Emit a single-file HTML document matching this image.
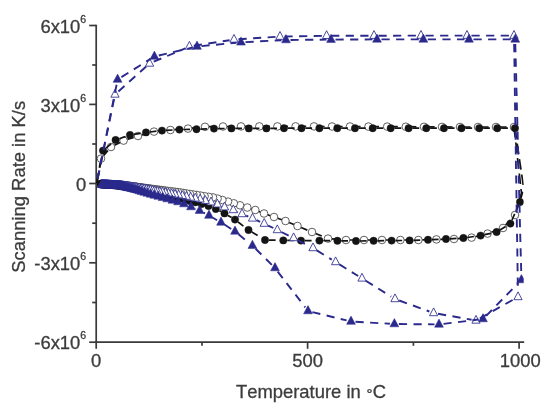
<!DOCTYPE html>
<html><head><meta charset="utf-8"><title>Scanning Rate vs Temperature</title>
<style>html,body{margin:0;padding:0;background:#fff}body{width:550px;height:415px;overflow:hidden}</style></head>
<body>
<svg width="550" height="415" viewBox="0 0 550 415" style="display:block;filter:blur(0.45px)">
<rect width="550" height="415" fill="#fff"/>
<g stroke="#3a3a3a" stroke-width="1.7" fill="none" stroke-linecap="butt">
<path d="M96.2 24.7 V343.05"/>
<path d="M95.35 342.2 H524.2"/>
<path d="M89.2 25.5 H96.2"/>
<path d="M89.2 104.4 H96.2"/>
<path d="M89.2 183.5 H96.2"/>
<path d="M89.2 262.8 H96.2"/>
<path d="M89.2 342.2 H96.2"/>
<path d="M92.2 65.0 H96.2"/>
<path d="M92.2 144.0 H96.2"/>
<path d="M92.2 223.2 H96.2"/>
<path d="M92.2 302.5 H96.2"/>
<path d="M96.2 342.2 V348.8"/>
<path d="M307.6 342.2 V348.8"/>
<path d="M519.1 342.2 V348.8"/>
<path d="M202.0 342.2 V345.8"/>
<path d="M413.4 342.2 V345.8"/>
</g>
<clipPath id="pa"><rect x="95.4" y="10" width="428.3" height="340"/></clipPath>
<g clip-path="url(#pa)">
<path d="M96.8 183.0L98.6 172.6M99.4 167.6L100.3 162.4M103.5 155.6L107.9 150.6M114.5 145.2L120.1 142.4M127.3 139.4L133.7 137.4M141.8 135.0L148.2 133.2M157.9 131.2L164.5 130.6M174.3 129.7L181.0 129.2M191.9 128.2L198.5 127.5M208.9 126.7L215.6 126.6M226.9 126.5L233.6 126.4M244.9 126.4L251.6 126.4M263.2 126.4L269.9 126.4M281.3 126.4L288.0 126.4M299.5 126.4L306.2 126.4M317.9 126.4L324.6 126.5M335.9 126.5L342.6 126.5M353.9 126.5L360.6 126.6M372.4 126.6L379.1 126.6M391.1 126.6L397.8 126.7M409.7 126.7L416.4 126.8M427.9 126.8L434.6 126.9M445.9 126.9L452.6 127.0M463.9 127.0L470.6 127.0M481.9 127.0L488.6 127.0M499.9 127.0L506.6 127.0M514.4 130.9L515.2 137.5M515.8 142.5L517.0 153.0M517.5 158.0L518.7 168.5M519.3 173.5L520.5 184.0M521.0 189.0L521.5 193.0M516.1 211.3L518.0 204.8M519.4 200.0L521.5 193.0M505.6 225.1L510.2 220.2M491.3 232.3L497.6 230.0M475.4 236.7L481.9 235.0M457.9 238.7L464.6 238.2M440.3 239.3L447.0 239.2M422.3 239.9L429.0 239.6M404.3 240.0L411.0 240.0M385.9 240.0L392.6 240.0M367.9 240.0L374.6 240.0M349.9 240.0L356.6 240.0M331.9 238.9L338.6 239.4M315.6 233.5L321.8 236.0M301.1 227.5L307.3 230.1M289.1 222.5L293.9 224.5M277.7 218.3L281.8 219.7M267.7 214.8L270.3 215.7M258.9 211.5L260.4 212.0M251.0 208.7L251.6 208.8" fill="none" stroke="#141414" stroke-width="1.7"/>
<circle cx="101.0" cy="158.6" r="3.8" fill="#fff" stroke="#2c2c2c" stroke-width="0.75"/>
<circle cx="111.0" cy="147.0" r="3.8" fill="#fff" stroke="#2c2c2c" stroke-width="0.75"/>
<circle cx="123.6" cy="140.6" r="3.8" fill="#fff" stroke="#2c2c2c" stroke-width="0.75"/>
<circle cx="138.0" cy="136.0" r="3.8" fill="#fff" stroke="#2c2c2c" stroke-width="0.75"/>
<circle cx="154.0" cy="131.6" r="3.8" fill="#fff" stroke="#2c2c2c" stroke-width="0.75"/>
<circle cx="170.4" cy="130.0" r="3.8" fill="#fff" stroke="#2c2c2c" stroke-width="0.75"/>
<circle cx="188.0" cy="128.6" r="3.8" fill="#fff" stroke="#2c2c2c" stroke-width="0.75"/>
<circle cx="205.0" cy="126.8" r="3.8" fill="#fff" stroke="#2c2c2c" stroke-width="0.75"/>
<circle cx="223.0" cy="126.5" r="3.8" fill="#fff" stroke="#2c2c2c" stroke-width="0.75"/>
<circle cx="241.0" cy="126.4" r="3.8" fill="#fff" stroke="#2c2c2c" stroke-width="0.75"/>
<circle cx="259.3" cy="126.4" r="3.8" fill="#fff" stroke="#2c2c2c" stroke-width="0.75"/>
<circle cx="277.4" cy="126.4" r="3.8" fill="#fff" stroke="#2c2c2c" stroke-width="0.75"/>
<circle cx="295.6" cy="126.4" r="3.8" fill="#fff" stroke="#2c2c2c" stroke-width="0.75"/>
<circle cx="314.0" cy="126.4" r="3.8" fill="#fff" stroke="#2c2c2c" stroke-width="0.75"/>
<circle cx="332.0" cy="126.5" r="3.8" fill="#fff" stroke="#2c2c2c" stroke-width="0.75"/>
<circle cx="350.0" cy="126.5" r="3.8" fill="#fff" stroke="#2c2c2c" stroke-width="0.75"/>
<circle cx="368.5" cy="126.6" r="3.8" fill="#fff" stroke="#2c2c2c" stroke-width="0.75"/>
<circle cx="387.2" cy="126.6" r="3.8" fill="#fff" stroke="#2c2c2c" stroke-width="0.75"/>
<circle cx="405.8" cy="126.7" r="3.8" fill="#fff" stroke="#2c2c2c" stroke-width="0.75"/>
<circle cx="424.0" cy="126.8" r="3.8" fill="#fff" stroke="#2c2c2c" stroke-width="0.75"/>
<circle cx="442.0" cy="126.9" r="3.8" fill="#fff" stroke="#2c2c2c" stroke-width="0.75"/>
<circle cx="460.0" cy="127.0" r="3.8" fill="#fff" stroke="#2c2c2c" stroke-width="0.75"/>
<circle cx="478.0" cy="127.0" r="3.8" fill="#fff" stroke="#2c2c2c" stroke-width="0.75"/>
<circle cx="496.0" cy="127.0" r="3.8" fill="#fff" stroke="#2c2c2c" stroke-width="0.75"/>
<circle cx="514.0" cy="127.0" r="3.8" fill="#fff" stroke="#2c2c2c" stroke-width="0.75"/>
<circle cx="515.0" cy="215.0" r="3.8" fill="#fff" stroke="#2c2c2c" stroke-width="0.75"/>
<circle cx="503.0" cy="228.0" r="3.8" fill="#fff" stroke="#2c2c2c" stroke-width="0.75"/>
<circle cx="487.6" cy="233.6" r="3.8" fill="#fff" stroke="#2c2c2c" stroke-width="0.75"/>
<circle cx="471.6" cy="237.6" r="3.8" fill="#fff" stroke="#2c2c2c" stroke-width="0.75"/>
<circle cx="454.0" cy="239.0" r="3.8" fill="#fff" stroke="#2c2c2c" stroke-width="0.75"/>
<circle cx="436.4" cy="239.4" r="3.8" fill="#fff" stroke="#2c2c2c" stroke-width="0.75"/>
<circle cx="418.4" cy="240.0" r="3.8" fill="#fff" stroke="#2c2c2c" stroke-width="0.75"/>
<circle cx="400.4" cy="240.0" r="3.8" fill="#fff" stroke="#2c2c2c" stroke-width="0.75"/>
<circle cx="382.0" cy="240.0" r="3.8" fill="#fff" stroke="#2c2c2c" stroke-width="0.75"/>
<circle cx="364.0" cy="240.0" r="3.8" fill="#fff" stroke="#2c2c2c" stroke-width="0.75"/>
<circle cx="346.0" cy="240.0" r="3.8" fill="#fff" stroke="#2c2c2c" stroke-width="0.75"/>
<circle cx="328.0" cy="238.6" r="3.8" fill="#fff" stroke="#2c2c2c" stroke-width="0.75"/>
<circle cx="312.0" cy="232.0" r="3.8" fill="#fff" stroke="#2c2c2c" stroke-width="0.75"/>
<circle cx="297.5" cy="226.0" r="3.8" fill="#fff" stroke="#2c2c2c" stroke-width="0.75"/>
<circle cx="285.5" cy="221.0" r="3.8" fill="#fff" stroke="#2c2c2c" stroke-width="0.75"/>
<circle cx="274.0" cy="217.0" r="3.8" fill="#fff" stroke="#2c2c2c" stroke-width="0.75"/>
<circle cx="264.0" cy="213.5" r="3.8" fill="#fff" stroke="#2c2c2c" stroke-width="0.75"/>
<circle cx="255.3" cy="210.0" r="3.8" fill="#fff" stroke="#2c2c2c" stroke-width="0.75"/>
<circle cx="247.3" cy="207.5" r="3.8" fill="#fff" stroke="#2c2c2c" stroke-width="0.75"/>
<circle cx="240.0" cy="205.3" r="3.8" fill="#fff" stroke="#2c2c2c" stroke-width="0.75"/>
<circle cx="233.8" cy="203.3" r="3.8" fill="#fff" stroke="#2c2c2c" stroke-width="0.75"/>
<circle cx="228.0" cy="201.6" r="3.8" fill="#fff" stroke="#2c2c2c" stroke-width="0.75"/>
<circle cx="222.4" cy="200.0" r="3.8" fill="#fff" stroke="#2c2c2c" stroke-width="0.75"/>
<circle cx="217.6" cy="198.6" r="3.8" fill="#fff" stroke="#2c2c2c" stroke-width="0.75"/>
<circle cx="213.0" cy="197.4" r="3.8" fill="#fff" stroke="#2c2c2c" stroke-width="0.75"/>
<circle cx="208.7" cy="196.8" r="3.8" fill="#fff" stroke="#2c2c2c" stroke-width="0.75"/>
<circle cx="204.6" cy="196.2" r="3.8" fill="#fff" stroke="#2c2c2c" stroke-width="0.75"/>
<circle cx="200.7" cy="195.6" r="3.8" fill="#fff" stroke="#2c2c2c" stroke-width="0.75"/>
<circle cx="196.9" cy="195.0" r="3.8" fill="#fff" stroke="#2c2c2c" stroke-width="0.75"/>
<circle cx="193.4" cy="194.5" r="3.8" fill="#fff" stroke="#2c2c2c" stroke-width="0.75"/>
<circle cx="190.0" cy="194.0" r="3.8" fill="#fff" stroke="#2c2c2c" stroke-width="0.75"/>
<circle cx="186.7" cy="193.5" r="3.8" fill="#fff" stroke="#2c2c2c" stroke-width="0.75"/>
<circle cx="183.6" cy="193.0" r="3.8" fill="#fff" stroke="#2c2c2c" stroke-width="0.75"/>
<circle cx="180.7" cy="192.5" r="3.8" fill="#fff" stroke="#2c2c2c" stroke-width="0.75"/>
<circle cx="177.9" cy="192.1" r="3.8" fill="#fff" stroke="#2c2c2c" stroke-width="0.75"/>
<circle cx="175.2" cy="191.8" r="3.8" fill="#fff" stroke="#2c2c2c" stroke-width="0.75"/>
<circle cx="172.7" cy="191.5" r="3.8" fill="#fff" stroke="#2c2c2c" stroke-width="0.75"/>
<circle cx="170.2" cy="191.1" r="3.8" fill="#fff" stroke="#2c2c2c" stroke-width="0.75"/>
<circle cx="167.8" cy="190.9" r="3.8" fill="#fff" stroke="#2c2c2c" stroke-width="0.75"/>
<circle cx="165.5" cy="190.6" r="3.8" fill="#fff" stroke="#2c2c2c" stroke-width="0.75"/>
<circle cx="163.3" cy="190.3" r="3.8" fill="#fff" stroke="#2c2c2c" stroke-width="0.75"/>
<circle cx="161.2" cy="190.0" r="3.8" fill="#fff" stroke="#2c2c2c" stroke-width="0.75"/>
<circle cx="159.2" cy="189.8" r="3.8" fill="#fff" stroke="#2c2c2c" stroke-width="0.75"/>
<circle cx="157.2" cy="189.5" r="3.8" fill="#fff" stroke="#2c2c2c" stroke-width="0.75"/>
<circle cx="155.4" cy="189.3" r="3.8" fill="#fff" stroke="#2c2c2c" stroke-width="0.75"/>
<circle cx="153.6" cy="189.1" r="3.8" fill="#fff" stroke="#2c2c2c" stroke-width="0.75"/>
<circle cx="151.8" cy="188.9" r="3.8" fill="#fff" stroke="#2c2c2c" stroke-width="0.75"/>
<circle cx="150.2" cy="188.6" r="3.8" fill="#fff" stroke="#2c2c2c" stroke-width="0.75"/>
<circle cx="148.6" cy="188.4" r="3.8" fill="#fff" stroke="#2c2c2c" stroke-width="0.75"/>
<circle cx="147.0" cy="188.2" r="3.8" fill="#fff" stroke="#2c2c2c" stroke-width="0.75"/>
<circle cx="145.6" cy="188.0" r="3.8" fill="#fff" stroke="#2c2c2c" stroke-width="0.75"/>
<circle cx="144.2" cy="187.9" r="3.8" fill="#fff" stroke="#2c2c2c" stroke-width="0.75"/>
<circle cx="142.8" cy="187.7" r="3.8" fill="#fff" stroke="#2c2c2c" stroke-width="0.75"/>
<circle cx="141.5" cy="187.5" r="3.8" fill="#fff" stroke="#2c2c2c" stroke-width="0.75"/>
<circle cx="140.3" cy="187.3" r="3.8" fill="#fff" stroke="#2c2c2c" stroke-width="0.75"/>
<circle cx="139.1" cy="187.2" r="3.8" fill="#fff" stroke="#2c2c2c" stroke-width="0.75"/>
<circle cx="137.9" cy="187.0" r="3.8" fill="#fff" stroke="#2c2c2c" stroke-width="0.75"/>
<circle cx="136.8" cy="186.9" r="3.8" fill="#fff" stroke="#2c2c2c" stroke-width="0.75"/>
<circle cx="135.8" cy="186.8" r="3.8" fill="#fff" stroke="#2c2c2c" stroke-width="0.75"/>
<circle cx="134.8" cy="186.6" r="3.8" fill="#fff" stroke="#2c2c2c" stroke-width="0.75"/>
<circle cx="133.8" cy="186.5" r="3.8" fill="#fff" stroke="#2c2c2c" stroke-width="0.75"/>
<circle cx="132.9" cy="186.4" r="3.8" fill="#fff" stroke="#2c2c2c" stroke-width="0.75"/>
<circle cx="131.9" cy="186.3" r="3.8" fill="#fff" stroke="#2c2c2c" stroke-width="0.75"/>
<circle cx="131.1" cy="186.2" r="3.8" fill="#fff" stroke="#2c2c2c" stroke-width="0.75"/>
<circle cx="130.2" cy="186.1" r="3.8" fill="#fff" stroke="#2c2c2c" stroke-width="0.75"/>
<circle cx="129.4" cy="186.0" r="3.8" fill="#fff" stroke="#2c2c2c" stroke-width="0.75"/>
<circle cx="128.6" cy="186.0" r="3.8" fill="#fff" stroke="#2c2c2c" stroke-width="0.75"/>
<circle cx="127.8" cy="185.9" r="3.8" fill="#fff" stroke="#2c2c2c" stroke-width="0.75"/>
<circle cx="127.1" cy="185.8" r="3.8" fill="#fff" stroke="#2c2c2c" stroke-width="0.75"/>
<circle cx="126.4" cy="185.7" r="3.8" fill="#fff" stroke="#2c2c2c" stroke-width="0.75"/>
<circle cx="125.7" cy="185.6" r="3.8" fill="#fff" stroke="#2c2c2c" stroke-width="0.75"/>
<circle cx="125.0" cy="185.6" r="3.8" fill="#fff" stroke="#2c2c2c" stroke-width="0.75"/>
<circle cx="124.4" cy="185.5" r="3.8" fill="#fff" stroke="#2c2c2c" stroke-width="0.75"/>
<circle cx="123.8" cy="185.4" r="3.8" fill="#fff" stroke="#2c2c2c" stroke-width="0.75"/>
<circle cx="123.2" cy="185.4" r="3.8" fill="#fff" stroke="#2c2c2c" stroke-width="0.75"/>
<circle cx="122.6" cy="185.3" r="3.8" fill="#fff" stroke="#2c2c2c" stroke-width="0.75"/>
<circle cx="122.0" cy="185.2" r="3.8" fill="#fff" stroke="#2c2c2c" stroke-width="0.75"/>
<circle cx="121.5" cy="185.2" r="3.8" fill="#fff" stroke="#2c2c2c" stroke-width="0.75"/>
<circle cx="121.0" cy="185.1" r="3.8" fill="#fff" stroke="#2c2c2c" stroke-width="0.75"/>
<circle cx="120.5" cy="185.1" r="3.8" fill="#fff" stroke="#2c2c2c" stroke-width="0.75"/>
<circle cx="120.0" cy="185.0" r="3.8" fill="#fff" stroke="#2c2c2c" stroke-width="0.75"/>
<circle cx="119.5" cy="185.0" r="3.8" fill="#fff" stroke="#2c2c2c" stroke-width="0.75"/>
<circle cx="119.0" cy="184.9" r="3.8" fill="#fff" stroke="#2c2c2c" stroke-width="0.75"/>
<circle cx="118.5" cy="184.9" r="3.8" fill="#fff" stroke="#2c2c2c" stroke-width="0.75"/>
<circle cx="118.0" cy="184.9" r="3.8" fill="#fff" stroke="#2c2c2c" stroke-width="0.75"/>
<circle cx="117.5" cy="184.9" r="3.8" fill="#fff" stroke="#2c2c2c" stroke-width="0.75"/>
<circle cx="117.0" cy="184.8" r="3.8" fill="#fff" stroke="#2c2c2c" stroke-width="0.75"/>
<circle cx="116.5" cy="184.8" r="3.8" fill="#fff" stroke="#2c2c2c" stroke-width="0.75"/>
<circle cx="116.0" cy="184.8" r="3.8" fill="#fff" stroke="#2c2c2c" stroke-width="0.75"/>
<circle cx="115.5" cy="184.8" r="3.8" fill="#fff" stroke="#2c2c2c" stroke-width="0.75"/>
<circle cx="115.0" cy="184.7" r="3.8" fill="#fff" stroke="#2c2c2c" stroke-width="0.75"/>
<circle cx="114.5" cy="184.7" r="3.8" fill="#fff" stroke="#2c2c2c" stroke-width="0.75"/>
<circle cx="114.0" cy="184.7" r="3.8" fill="#fff" stroke="#2c2c2c" stroke-width="0.75"/>
<circle cx="113.5" cy="184.7" r="3.8" fill="#fff" stroke="#2c2c2c" stroke-width="0.75"/>
<circle cx="113.0" cy="184.6" r="3.8" fill="#fff" stroke="#2c2c2c" stroke-width="0.75"/>
<circle cx="112.5" cy="184.6" r="3.8" fill="#fff" stroke="#2c2c2c" stroke-width="0.75"/>
<circle cx="112.0" cy="184.6" r="3.8" fill="#fff" stroke="#2c2c2c" stroke-width="0.75"/>
<circle cx="111.5" cy="184.6" r="3.8" fill="#fff" stroke="#2c2c2c" stroke-width="0.75"/>
<circle cx="111.0" cy="184.5" r="3.8" fill="#fff" stroke="#2c2c2c" stroke-width="0.75"/>
<circle cx="110.5" cy="184.5" r="3.8" fill="#fff" stroke="#2c2c2c" stroke-width="0.75"/>
<circle cx="110.0" cy="184.5" r="3.8" fill="#fff" stroke="#2c2c2c" stroke-width="0.75"/>
<circle cx="109.5" cy="184.5" r="3.8" fill="#fff" stroke="#2c2c2c" stroke-width="0.75"/>
<circle cx="109.0" cy="184.4" r="3.8" fill="#fff" stroke="#2c2c2c" stroke-width="0.75"/>
<circle cx="108.5" cy="184.4" r="3.8" fill="#fff" stroke="#2c2c2c" stroke-width="0.75"/>
<circle cx="108.0" cy="184.4" r="3.8" fill="#fff" stroke="#2c2c2c" stroke-width="0.75"/>
<circle cx="107.5" cy="184.4" r="3.8" fill="#fff" stroke="#2c2c2c" stroke-width="0.75"/>
<circle cx="107.0" cy="184.3" r="3.8" fill="#fff" stroke="#2c2c2c" stroke-width="0.75"/>
<circle cx="106.5" cy="184.3" r="3.8" fill="#fff" stroke="#2c2c2c" stroke-width="0.75"/>
<circle cx="106.0" cy="184.3" r="3.8" fill="#fff" stroke="#2c2c2c" stroke-width="0.75"/>
<circle cx="105.5" cy="184.3" r="3.8" fill="#fff" stroke="#2c2c2c" stroke-width="0.75"/>
<circle cx="105.0" cy="184.2" r="3.8" fill="#fff" stroke="#2c2c2c" stroke-width="0.75"/>
<circle cx="104.5" cy="184.2" r="3.8" fill="#fff" stroke="#2c2c2c" stroke-width="0.75"/>
<circle cx="104.0" cy="184.2" r="3.8" fill="#fff" stroke="#2c2c2c" stroke-width="0.75"/>
<circle cx="103.5" cy="184.2" r="3.8" fill="#fff" stroke="#2c2c2c" stroke-width="0.75"/>
<circle cx="103.0" cy="184.1" r="3.8" fill="#fff" stroke="#2c2c2c" stroke-width="0.75"/>
<circle cx="102.5" cy="184.1" r="3.8" fill="#fff" stroke="#2c2c2c" stroke-width="0.75"/>
<circle cx="102.0" cy="184.1" r="3.8" fill="#fff" stroke="#2c2c2c" stroke-width="0.75"/>
<circle cx="101.5" cy="184.1" r="3.8" fill="#fff" stroke="#2c2c2c" stroke-width="0.75"/>
<circle cx="101.0" cy="184.0" r="3.8" fill="#fff" stroke="#2c2c2c" stroke-width="0.75"/>
<circle cx="100.5" cy="184.0" r="3.8" fill="#fff" stroke="#2c2c2c" stroke-width="0.75"/>
<path d="M96.8 183.0L98.8 172.6M99.7 167.7L101.7 157.3M106.0 148.1L111.1 143.8M119.3 138.7L125.6 136.5M133.8 134.4L140.5 133.3M149.9 132.0L156.5 131.2M165.9 130.4L172.6 130.0M183.3 129.5L190.0 129.4M200.4 129.1L207.1 128.8M217.9 128.6L224.6 128.5M235.3 128.4L242.0 128.4M252.7 128.4L259.4 128.4M270.3 128.4L277.0 128.3M287.9 128.2L294.6 128.2M305.4 128.2L312.1 128.2M323.3 128.2L330.0 128.2M341.2 128.2L347.9 128.2M358.9 128.2L365.6 128.2M376.6 128.2L383.3 128.2M394.6 128.2L401.3 128.2M412.5 128.2L419.2 128.2M430.2 128.2L436.9 128.2M447.9 128.2L454.6 128.2M465.4 128.2L472.1 128.2M483.2 128.2L489.9 128.2M501.2 128.2L507.9 128.2M515.6 132.1L516.5 138.7M517.2 143.6L518.7 154.1M519.4 159.1L521.0 169.6M521.7 174.5L523.2 185.0M521.0 198.2L522.6 191.7M512.0 220.0L514.7 213.9M516.7 209.3L518.4 205.6M499.9 230.0L505.7 226.5M484.4 234.7L490.9 233.3M467.3 237.5L473.9 236.5M449.9 238.8L456.6 238.4M431.9 239.6L438.6 239.3M413.5 240.3L420.2 240.1M395.5 240.6L402.2 240.5M377.5 240.8L384.2 240.7M359.9 241.0L366.6 240.9M341.3 240.8L348.0 240.9M323.3 240.6L330.0 240.7M304.9 240.6L311.6 240.6M287.2 240.4L293.9 240.5M268.9 240.1L275.6 240.2M251.8 232.0L257.6 235.5M238.1 222.0L243.4 226.1M227.9 215.4L231.6 217.6M219.3 210.8L221.0 211.6" fill="none" stroke="#141414" stroke-width="1.7"/>
<circle cx="103.0" cy="150.6" r="3.7" fill="#141414" stroke="#141414" stroke-width="0.4"/>
<circle cx="115.6" cy="140.0" r="3.7" fill="#141414" stroke="#141414" stroke-width="0.4"/>
<circle cx="130.0" cy="135.0" r="3.7" fill="#141414" stroke="#141414" stroke-width="0.4"/>
<circle cx="146.0" cy="132.4" r="3.7" fill="#141414" stroke="#141414" stroke-width="0.4"/>
<circle cx="162.0" cy="130.6" r="3.7" fill="#141414" stroke="#141414" stroke-width="0.4"/>
<circle cx="179.4" cy="129.6" r="3.7" fill="#141414" stroke="#141414" stroke-width="0.4"/>
<circle cx="196.5" cy="129.2" r="3.7" fill="#141414" stroke="#141414" stroke-width="0.4"/>
<circle cx="214.0" cy="128.6" r="3.7" fill="#141414" stroke="#141414" stroke-width="0.4"/>
<circle cx="231.4" cy="128.4" r="3.7" fill="#141414" stroke="#141414" stroke-width="0.4"/>
<circle cx="248.8" cy="128.4" r="3.7" fill="#141414" stroke="#141414" stroke-width="0.4"/>
<circle cx="266.4" cy="128.4" r="3.7" fill="#141414" stroke="#141414" stroke-width="0.4"/>
<circle cx="284.0" cy="128.2" r="3.7" fill="#141414" stroke="#141414" stroke-width="0.4"/>
<circle cx="301.5" cy="128.2" r="3.7" fill="#141414" stroke="#141414" stroke-width="0.4"/>
<circle cx="319.4" cy="128.2" r="3.7" fill="#141414" stroke="#141414" stroke-width="0.4"/>
<circle cx="337.3" cy="128.2" r="3.7" fill="#141414" stroke="#141414" stroke-width="0.4"/>
<circle cx="355.0" cy="128.2" r="3.7" fill="#141414" stroke="#141414" stroke-width="0.4"/>
<circle cx="372.7" cy="128.2" r="3.7" fill="#141414" stroke="#141414" stroke-width="0.4"/>
<circle cx="390.7" cy="128.2" r="3.7" fill="#141414" stroke="#141414" stroke-width="0.4"/>
<circle cx="408.6" cy="128.2" r="3.7" fill="#141414" stroke="#141414" stroke-width="0.4"/>
<circle cx="426.3" cy="128.2" r="3.7" fill="#141414" stroke="#141414" stroke-width="0.4"/>
<circle cx="444.0" cy="128.2" r="3.7" fill="#141414" stroke="#141414" stroke-width="0.4"/>
<circle cx="461.5" cy="128.2" r="3.7" fill="#141414" stroke="#141414" stroke-width="0.4"/>
<circle cx="479.3" cy="128.2" r="3.7" fill="#141414" stroke="#141414" stroke-width="0.4"/>
<circle cx="497.3" cy="128.2" r="3.7" fill="#141414" stroke="#141414" stroke-width="0.4"/>
<circle cx="515.0" cy="128.2" r="3.7" fill="#141414" stroke="#141414" stroke-width="0.4"/>
<circle cx="520.0" cy="202.0" r="3.7" fill="#141414" stroke="#141414" stroke-width="0.4"/>
<circle cx="510.4" cy="223.6" r="3.7" fill="#141414" stroke="#141414" stroke-width="0.4"/>
<circle cx="496.6" cy="232.0" r="3.7" fill="#141414" stroke="#141414" stroke-width="0.4"/>
<circle cx="480.6" cy="235.6" r="3.7" fill="#141414" stroke="#141414" stroke-width="0.4"/>
<circle cx="463.4" cy="238.0" r="3.7" fill="#141414" stroke="#141414" stroke-width="0.4"/>
<circle cx="446.0" cy="239.0" r="3.7" fill="#141414" stroke="#141414" stroke-width="0.4"/>
<circle cx="428.0" cy="239.8" r="3.7" fill="#141414" stroke="#141414" stroke-width="0.4"/>
<circle cx="409.6" cy="240.4" r="3.7" fill="#141414" stroke="#141414" stroke-width="0.4"/>
<circle cx="391.6" cy="240.6" r="3.7" fill="#141414" stroke="#141414" stroke-width="0.4"/>
<circle cx="373.6" cy="240.8" r="3.7" fill="#141414" stroke="#141414" stroke-width="0.4"/>
<circle cx="356.0" cy="241.0" r="3.7" fill="#141414" stroke="#141414" stroke-width="0.4"/>
<circle cx="337.4" cy="240.8" r="3.7" fill="#141414" stroke="#141414" stroke-width="0.4"/>
<circle cx="319.4" cy="240.6" r="3.7" fill="#141414" stroke="#141414" stroke-width="0.4"/>
<circle cx="301.0" cy="240.6" r="3.7" fill="#141414" stroke="#141414" stroke-width="0.4"/>
<circle cx="283.3" cy="240.4" r="3.7" fill="#141414" stroke="#141414" stroke-width="0.4"/>
<circle cx="265.0" cy="240.0" r="3.7" fill="#141414" stroke="#141414" stroke-width="0.4"/>
<circle cx="248.5" cy="230.0" r="3.7" fill="#141414" stroke="#141414" stroke-width="0.4"/>
<circle cx="235.0" cy="219.6" r="3.7" fill="#141414" stroke="#141414" stroke-width="0.4"/>
<circle cx="224.5" cy="213.4" r="3.7" fill="#141414" stroke="#141414" stroke-width="0.4"/>
<circle cx="215.8" cy="209.0" r="3.7" fill="#141414" stroke="#141414" stroke-width="0.4"/>
<circle cx="208.5" cy="206.0" r="3.7" fill="#141414" stroke="#141414" stroke-width="0.4"/>
<circle cx="201.7" cy="204.1" r="3.7" fill="#141414" stroke="#141414" stroke-width="0.4"/>
<circle cx="195.5" cy="202.3" r="3.7" fill="#141414" stroke="#141414" stroke-width="0.4"/>
<circle cx="189.7" cy="201.0" r="3.7" fill="#141414" stroke="#141414" stroke-width="0.4"/>
<circle cx="184.4" cy="199.7" r="3.7" fill="#141414" stroke="#141414" stroke-width="0.4"/>
<circle cx="179.4" cy="198.6" r="3.7" fill="#141414" stroke="#141414" stroke-width="0.4"/>
<circle cx="174.8" cy="197.5" r="3.7" fill="#141414" stroke="#141414" stroke-width="0.4"/>
<circle cx="170.5" cy="196.6" r="3.7" fill="#141414" stroke="#141414" stroke-width="0.4"/>
<circle cx="166.5" cy="195.7" r="3.7" fill="#141414" stroke="#141414" stroke-width="0.4"/>
<circle cx="162.8" cy="194.9" r="3.7" fill="#141414" stroke="#141414" stroke-width="0.4"/>
<circle cx="159.3" cy="194.1" r="3.7" fill="#141414" stroke="#141414" stroke-width="0.4"/>
<circle cx="156.1" cy="193.4" r="3.7" fill="#141414" stroke="#141414" stroke-width="0.4"/>
<circle cx="153.0" cy="192.7" r="3.7" fill="#141414" stroke="#141414" stroke-width="0.4"/>
<circle cx="150.2" cy="192.1" r="3.7" fill="#141414" stroke="#141414" stroke-width="0.4"/>
<circle cx="147.6" cy="191.5" r="3.7" fill="#141414" stroke="#141414" stroke-width="0.4"/>
<circle cx="145.2" cy="190.9" r="3.7" fill="#141414" stroke="#141414" stroke-width="0.4"/>
<circle cx="142.9" cy="190.4" r="3.7" fill="#141414" stroke="#141414" stroke-width="0.4"/>
<circle cx="140.8" cy="189.9" r="3.7" fill="#141414" stroke="#141414" stroke-width="0.4"/>
<circle cx="138.9" cy="189.4" r="3.7" fill="#141414" stroke="#141414" stroke-width="0.4"/>
<circle cx="137.1" cy="189.0" r="3.7" fill="#141414" stroke="#141414" stroke-width="0.4"/>
<circle cx="135.4" cy="188.6" r="3.7" fill="#141414" stroke="#141414" stroke-width="0.4"/>
<circle cx="133.9" cy="188.2" r="3.7" fill="#141414" stroke="#141414" stroke-width="0.4"/>
<circle cx="132.4" cy="188.0" r="3.7" fill="#141414" stroke="#141414" stroke-width="0.4"/>
<circle cx="131.0" cy="187.7" r="3.7" fill="#141414" stroke="#141414" stroke-width="0.4"/>
<circle cx="129.7" cy="187.5" r="3.7" fill="#141414" stroke="#141414" stroke-width="0.4"/>
<circle cx="128.5" cy="187.3" r="3.7" fill="#141414" stroke="#141414" stroke-width="0.4"/>
<circle cx="127.3" cy="187.0" r="3.7" fill="#141414" stroke="#141414" stroke-width="0.4"/>
<circle cx="126.3" cy="186.8" r="3.7" fill="#141414" stroke="#141414" stroke-width="0.4"/>
<circle cx="125.2" cy="186.7" r="3.7" fill="#141414" stroke="#141414" stroke-width="0.4"/>
<circle cx="124.3" cy="186.5" r="3.7" fill="#141414" stroke="#141414" stroke-width="0.4"/>
<circle cx="123.3" cy="186.3" r="3.7" fill="#141414" stroke="#141414" stroke-width="0.4"/>
<circle cx="122.5" cy="186.2" r="3.7" fill="#141414" stroke="#141414" stroke-width="0.4"/>
<circle cx="121.7" cy="186.0" r="3.7" fill="#141414" stroke="#141414" stroke-width="0.4"/>
<circle cx="120.9" cy="185.9" r="3.7" fill="#141414" stroke="#141414" stroke-width="0.4"/>
<circle cx="120.2" cy="185.7" r="3.7" fill="#141414" stroke="#141414" stroke-width="0.4"/>
<circle cx="119.5" cy="185.6" r="3.7" fill="#141414" stroke="#141414" stroke-width="0.4"/>
<circle cx="118.8" cy="185.6" r="3.7" fill="#141414" stroke="#141414" stroke-width="0.4"/>
<circle cx="118.1" cy="185.5" r="3.7" fill="#141414" stroke="#141414" stroke-width="0.4"/>
<circle cx="117.5" cy="185.5" r="3.7" fill="#141414" stroke="#141414" stroke-width="0.4"/>
<circle cx="116.9" cy="185.4" r="3.7" fill="#141414" stroke="#141414" stroke-width="0.4"/>
<circle cx="116.3" cy="185.3" r="3.7" fill="#141414" stroke="#141414" stroke-width="0.4"/>
<circle cx="115.7" cy="185.3" r="3.7" fill="#141414" stroke="#141414" stroke-width="0.4"/>
<circle cx="115.2" cy="185.2" r="3.7" fill="#141414" stroke="#141414" stroke-width="0.4"/>
<circle cx="114.6" cy="185.2" r="3.7" fill="#141414" stroke="#141414" stroke-width="0.4"/>
<circle cx="114.1" cy="185.1" r="3.7" fill="#141414" stroke="#141414" stroke-width="0.4"/>
<circle cx="113.6" cy="185.1" r="3.7" fill="#141414" stroke="#141414" stroke-width="0.4"/>
<circle cx="113.1" cy="185.0" r="3.7" fill="#141414" stroke="#141414" stroke-width="0.4"/>
<circle cx="112.6" cy="185.0" r="3.7" fill="#141414" stroke="#141414" stroke-width="0.4"/>
<circle cx="112.1" cy="184.9" r="3.7" fill="#141414" stroke="#141414" stroke-width="0.4"/>
<circle cx="111.6" cy="184.9" r="3.7" fill="#141414" stroke="#141414" stroke-width="0.4"/>
<circle cx="111.1" cy="184.8" r="3.7" fill="#141414" stroke="#141414" stroke-width="0.4"/>
<circle cx="110.6" cy="184.8" r="3.7" fill="#141414" stroke="#141414" stroke-width="0.4"/>
<circle cx="110.1" cy="184.7" r="3.7" fill="#141414" stroke="#141414" stroke-width="0.4"/>
<circle cx="109.6" cy="184.7" r="3.7" fill="#141414" stroke="#141414" stroke-width="0.4"/>
<circle cx="109.1" cy="184.7" r="3.7" fill="#141414" stroke="#141414" stroke-width="0.4"/>
<circle cx="108.6" cy="184.6" r="3.7" fill="#141414" stroke="#141414" stroke-width="0.4"/>
<circle cx="108.1" cy="184.6" r="3.7" fill="#141414" stroke="#141414" stroke-width="0.4"/>
<circle cx="107.6" cy="184.5" r="3.7" fill="#141414" stroke="#141414" stroke-width="0.4"/>
<circle cx="107.1" cy="184.5" r="3.7" fill="#141414" stroke="#141414" stroke-width="0.4"/>
<circle cx="106.6" cy="184.4" r="3.7" fill="#141414" stroke="#141414" stroke-width="0.4"/>
<circle cx="106.1" cy="184.4" r="3.7" fill="#141414" stroke="#141414" stroke-width="0.4"/>
<circle cx="105.6" cy="184.3" r="3.7" fill="#141414" stroke="#141414" stroke-width="0.4"/>
<circle cx="105.1" cy="184.3" r="3.7" fill="#141414" stroke="#141414" stroke-width="0.4"/>
<circle cx="104.6" cy="184.2" r="3.7" fill="#141414" stroke="#141414" stroke-width="0.4"/>
<circle cx="104.1" cy="184.2" r="3.7" fill="#141414" stroke="#141414" stroke-width="0.4"/>
<circle cx="103.6" cy="184.1" r="3.7" fill="#141414" stroke="#141414" stroke-width="0.4"/>
<circle cx="103.1" cy="184.1" r="3.7" fill="#141414" stroke="#141414" stroke-width="0.4"/>
<circle cx="102.6" cy="184.0" r="3.7" fill="#141414" stroke="#141414" stroke-width="0.4"/>
<circle cx="102.1" cy="184.0" r="3.7" fill="#141414" stroke="#141414" stroke-width="0.4"/>
<circle cx="101.6" cy="183.9" r="3.7" fill="#141414" stroke="#141414" stroke-width="0.4"/>
<circle cx="101.1" cy="183.9" r="3.7" fill="#141414" stroke="#141414" stroke-width="0.4"/>
<circle cx="100.6" cy="183.8" r="3.7" fill="#141414" stroke="#141414" stroke-width="0.4"/>
<path d="M97.7 178.6L99.4 170.6M100.6 164.3L102.3 156.3M103.6 150.0L105.2 142.0M106.5 135.7L108.2 127.7M109.5 121.4L111.1 113.4M112.4 107.1L114.1 99.1M118.4 91.5L124.5 86.0M129.2 81.8L135.3 76.3M140.1 72.0L146.2 66.5M153.7 61.7L161.3 58.5M167.2 56.0L174.7 52.8M180.6 50.3L185.3 48.3M193.8 45.8L201.9 44.5M208.3 43.5L216.4 42.3M222.7 41.3L229.6 40.2M238.5 39.2L246.7 38.7M253.1 38.3L261.2 37.8M267.6 37.4L275.5 36.9M284.5 36.5L292.7 36.4M299.1 36.3L307.3 36.1M313.7 36.0L321.9 35.9M331.1 35.8L339.3 35.8M345.7 35.8L353.9 35.7M360.3 35.7L368.5 35.7M378.5 35.7L386.7 35.7M393.1 35.7L401.3 35.6M407.7 35.6L415.9 35.6M425.5 35.6L433.7 35.6M440.1 35.6L448.3 35.6M454.7 35.6L462.5 35.6M471.5 35.6L479.7 35.6M486.1 35.6L494.3 35.6M500.7 35.6L508.9 35.6M514.1 44.0L514.3 52.2M514.4 58.6L514.5 66.8M514.6 73.2L514.7 81.4M514.8 87.8L514.9 96.0M515.0 102.4L515.1 110.6M515.2 117.0L515.4 125.2M515.5 131.6L515.6 139.8M515.7 146.2L515.8 154.4M515.9 160.8L516.0 169.0M516.1 175.4L516.3 183.6M516.4 190.0L516.5 198.2M516.6 204.6L516.7 212.8M516.8 219.2L516.9 227.4M517.0 233.8L517.2 242.0M517.3 248.4L517.4 256.6M517.5 263.0L517.6 271.2M517.7 277.6L517.8 285.8M517.9 292.2L517.9 292.5M479.9 318.3L487.1 314.3M492.7 311.2L499.8 307.2M505.4 304.0L512.6 300.0M438.0 313.8L446.1 315.2M452.4 316.3L460.5 317.8M466.8 318.9L471.6 319.7M399.2 300.5L406.9 303.3M413.0 305.5L420.7 308.3M426.7 310.5L429.4 311.5M365.8 280.8L372.8 285.1M378.2 288.5L385.2 292.9M390.6 296.2L391.2 296.6M339.4 264.4L346.4 268.7M351.8 272.1L358.2 276.0M316.8 250.4L323.8 254.7M329.2 258.1L331.8 259.6M297.6 240.1L304.9 243.8M281.3 232.0L288.7 235.6M268.2 225.6L273.3 228.0M256.6 220.2L260.1 221.8M246.2 215.7L248.3 216.7M237.4 211.9L237.9 212.1" fill="none" stroke="#2b2a8c" stroke-width="1.9"/>
<path d="M115.0 89.4 L119.1 97.2 L110.9 97.2Z" fill="#fff" stroke="#2b2a8c" stroke-width="0.85"/>
<path d="M149.6 58.4 L153.7 66.2 L145.5 66.2Z" fill="#fff" stroke="#2b2a8c" stroke-width="0.85"/>
<path d="M189.4 41.4 L193.5 49.2 L185.3 49.2Z" fill="#fff" stroke="#2b2a8c" stroke-width="0.85"/>
<path d="M234.0 34.4 L238.1 42.2 L229.9 42.2Z" fill="#fff" stroke="#2b2a8c" stroke-width="0.85"/>
<path d="M280.0 31.5 L284.1 39.3 L275.9 39.3Z" fill="#fff" stroke="#2b2a8c" stroke-width="0.85"/>
<path d="M326.6 30.7 L330.7 38.5 L322.5 38.5Z" fill="#fff" stroke="#2b2a8c" stroke-width="0.85"/>
<path d="M374.0 30.6 L378.1 38.4 L369.9 38.4Z" fill="#fff" stroke="#2b2a8c" stroke-width="0.85"/>
<path d="M421.0 30.5 L425.1 38.3 L416.9 38.3Z" fill="#fff" stroke="#2b2a8c" stroke-width="0.85"/>
<path d="M467.0 30.5 L471.1 38.3 L462.9 38.3Z" fill="#fff" stroke="#2b2a8c" stroke-width="0.85"/>
<path d="M514.0 30.5 L518.1 38.3 L509.9 38.3Z" fill="#fff" stroke="#2b2a8c" stroke-width="0.85"/>
<path d="M518.0 291.9 L522.1 299.7 L513.9 299.7Z" fill="#fff" stroke="#2b2a8c" stroke-width="0.85"/>
<path d="M476.0 315.4 L480.1 323.2 L471.9 323.2Z" fill="#fff" stroke="#2b2a8c" stroke-width="0.85"/>
<path d="M433.6 307.9 L437.7 315.7 L429.5 315.7Z" fill="#fff" stroke="#2b2a8c" stroke-width="0.85"/>
<path d="M395.0 293.9 L399.1 301.7 L390.9 301.7Z" fill="#fff" stroke="#2b2a8c" stroke-width="0.85"/>
<path d="M362.0 273.3 L366.1 281.1 L357.9 281.1Z" fill="#fff" stroke="#2b2a8c" stroke-width="0.85"/>
<path d="M335.6 256.9 L339.7 264.7 L331.5 264.7Z" fill="#fff" stroke="#2b2a8c" stroke-width="0.85"/>
<path d="M313.0 242.9 L317.1 250.7 L308.9 250.7Z" fill="#fff" stroke="#2b2a8c" stroke-width="0.85"/>
<path d="M293.6 232.9 L297.7 240.7 L289.5 240.7Z" fill="#fff" stroke="#2b2a8c" stroke-width="0.85"/>
<path d="M277.3 224.9 L281.4 232.7 L273.2 232.7Z" fill="#fff" stroke="#2b2a8c" stroke-width="0.85"/>
<path d="M264.2 218.5 L268.3 226.3 L260.1 226.3Z" fill="#fff" stroke="#2b2a8c" stroke-width="0.85"/>
<path d="M252.5 213.3 L256.6 221.1 L248.4 221.1Z" fill="#fff" stroke="#2b2a8c" stroke-width="0.85"/>
<path d="M242.0 208.9 L246.1 216.7 L237.9 216.7Z" fill="#fff" stroke="#2b2a8c" stroke-width="0.85"/>
<path d="M233.3 204.9 L237.4 212.7 L229.2 212.7Z" fill="#fff" stroke="#2b2a8c" stroke-width="0.85"/>
<path d="M224.5 202.1 L228.6 209.9 L220.4 209.9Z" fill="#fff" stroke="#2b2a8c" stroke-width="0.85"/>
<path d="M217.4 199.2 L221.5 207.0 L213.3 207.0Z" fill="#fff" stroke="#2b2a8c" stroke-width="0.85"/>
<path d="M211.0 197.1 L215.1 204.9 L206.9 204.9Z" fill="#fff" stroke="#2b2a8c" stroke-width="0.85"/>
<path d="M205.3 195.6 L209.4 203.4 L201.2 203.4Z" fill="#fff" stroke="#2b2a8c" stroke-width="0.85"/>
<path d="M200.1 194.2 L204.2 202.0 L196.0 202.0Z" fill="#fff" stroke="#2b2a8c" stroke-width="0.85"/>
<path d="M195.3 193.3 L199.4 201.1 L191.2 201.1Z" fill="#fff" stroke="#2b2a8c" stroke-width="0.85"/>
<path d="M190.7 192.4 L194.8 200.2 L186.6 200.2Z" fill="#fff" stroke="#2b2a8c" stroke-width="0.85"/>
<path d="M186.4 191.5 L190.5 199.3 L182.3 199.3Z" fill="#fff" stroke="#2b2a8c" stroke-width="0.85"/>
<path d="M182.4 190.7 L186.5 198.5 L178.3 198.5Z" fill="#fff" stroke="#2b2a8c" stroke-width="0.85"/>
<path d="M178.6 190.0 L182.7 197.8 L174.5 197.8Z" fill="#fff" stroke="#2b2a8c" stroke-width="0.85"/>
<path d="M175.0 189.4 L179.1 197.2 L170.9 197.2Z" fill="#fff" stroke="#2b2a8c" stroke-width="0.85"/>
<path d="M171.6 188.8 L175.7 196.6 L167.5 196.6Z" fill="#fff" stroke="#2b2a8c" stroke-width="0.85"/>
<path d="M168.4 188.2 L172.5 196.0 L164.3 196.0Z" fill="#fff" stroke="#2b2a8c" stroke-width="0.85"/>
<path d="M165.4 187.7 L169.5 195.5 L161.3 195.5Z" fill="#fff" stroke="#2b2a8c" stroke-width="0.85"/>
<path d="M162.5 187.2 L166.6 195.0 L158.4 195.0Z" fill="#fff" stroke="#2b2a8c" stroke-width="0.85"/>
<path d="M159.8 186.8 L163.9 194.6 L155.7 194.6Z" fill="#fff" stroke="#2b2a8c" stroke-width="0.85"/>
<path d="M157.2 186.3 L161.3 194.1 L153.1 194.1Z" fill="#fff" stroke="#2b2a8c" stroke-width="0.85"/>
<path d="M154.8 185.9 L158.9 193.7 L150.7 193.7Z" fill="#fff" stroke="#2b2a8c" stroke-width="0.85"/>
<path d="M152.5 185.5 L156.6 193.3 L148.4 193.3Z" fill="#fff" stroke="#2b2a8c" stroke-width="0.85"/>
<path d="M150.3 185.1 L154.4 192.9 L146.2 192.9Z" fill="#fff" stroke="#2b2a8c" stroke-width="0.85"/>
<path d="M148.2 184.8 L152.3 192.6 L144.1 192.6Z" fill="#fff" stroke="#2b2a8c" stroke-width="0.85"/>
<path d="M146.3 184.4 L150.4 192.2 L142.2 192.2Z" fill="#fff" stroke="#2b2a8c" stroke-width="0.85"/>
<path d="M144.4 184.1 L148.5 191.9 L140.3 191.9Z" fill="#fff" stroke="#2b2a8c" stroke-width="0.85"/>
<path d="M142.7 183.8 L146.8 191.6 L138.6 191.6Z" fill="#fff" stroke="#2b2a8c" stroke-width="0.85"/>
<path d="M141.0 183.5 L145.1 191.3 L136.9 191.3Z" fill="#fff" stroke="#2b2a8c" stroke-width="0.85"/>
<path d="M139.4 183.2 L143.5 191.0 L135.3 191.0Z" fill="#fff" stroke="#2b2a8c" stroke-width="0.85"/>
<path d="M137.9 183.0 L142.0 190.8 L133.8 190.8Z" fill="#fff" stroke="#2b2a8c" stroke-width="0.85"/>
<path d="M136.5 182.7 L140.6 190.5 L132.4 190.5Z" fill="#fff" stroke="#2b2a8c" stroke-width="0.85"/>
<path d="M135.2 182.5 L139.3 190.3 L131.1 190.3Z" fill="#fff" stroke="#2b2a8c" stroke-width="0.85"/>
<path d="M134.0 182.3 L138.1 190.1 L129.9 190.1Z" fill="#fff" stroke="#2b2a8c" stroke-width="0.85"/>
<path d="M132.8 182.1 L136.9 189.9 L128.7 189.9Z" fill="#fff" stroke="#2b2a8c" stroke-width="0.85"/>
<path d="M131.6 182.0 L135.7 189.8 L127.5 189.8Z" fill="#fff" stroke="#2b2a8c" stroke-width="0.85"/>
<path d="M130.5 181.8 L134.6 189.6 L126.4 189.6Z" fill="#fff" stroke="#2b2a8c" stroke-width="0.85"/>
<path d="M129.4 181.7 L133.5 189.5 L125.3 189.5Z" fill="#fff" stroke="#2b2a8c" stroke-width="0.85"/>
<path d="M128.4 181.5 L132.5 189.3 L124.3 189.3Z" fill="#fff" stroke="#2b2a8c" stroke-width="0.85"/>
<path d="M127.5 181.4 L131.6 189.2 L123.4 189.2Z" fill="#fff" stroke="#2b2a8c" stroke-width="0.85"/>
<path d="M126.5 181.3 L130.6 189.1 L122.4 189.1Z" fill="#fff" stroke="#2b2a8c" stroke-width="0.85"/>
<path d="M125.6 181.2 L129.7 189.0 L121.5 189.0Z" fill="#fff" stroke="#2b2a8c" stroke-width="0.85"/>
<path d="M124.8 181.0 L128.9 188.8 L120.7 188.8Z" fill="#fff" stroke="#2b2a8c" stroke-width="0.85"/>
<path d="M124.0 180.9 L128.1 188.7 L119.9 188.7Z" fill="#fff" stroke="#2b2a8c" stroke-width="0.85"/>
<path d="M123.2 180.8 L127.3 188.6 L119.1 188.6Z" fill="#fff" stroke="#2b2a8c" stroke-width="0.85"/>
<path d="M122.4 180.7 L126.5 188.5 L118.3 188.5Z" fill="#fff" stroke="#2b2a8c" stroke-width="0.85"/>
<path d="M121.7 180.6 L125.8 188.4 L117.6 188.4Z" fill="#fff" stroke="#2b2a8c" stroke-width="0.85"/>
<path d="M121.0 180.5 L125.1 188.3 L116.9 188.3Z" fill="#fff" stroke="#2b2a8c" stroke-width="0.85"/>
<path d="M120.4 180.4 L124.5 188.2 L116.3 188.2Z" fill="#fff" stroke="#2b2a8c" stroke-width="0.85"/>
<path d="M119.7 180.4 L123.8 188.2 L115.6 188.2Z" fill="#fff" stroke="#2b2a8c" stroke-width="0.85"/>
<path d="M119.1 180.4 L123.2 188.2 L115.0 188.2Z" fill="#fff" stroke="#2b2a8c" stroke-width="0.85"/>
<path d="M118.5 180.3 L122.6 188.1 L114.4 188.1Z" fill="#fff" stroke="#2b2a8c" stroke-width="0.85"/>
<path d="M117.9 180.3 L122.0 188.1 L113.8 188.1Z" fill="#fff" stroke="#2b2a8c" stroke-width="0.85"/>
<path d="M117.3 180.3 L121.4 188.1 L113.2 188.1Z" fill="#fff" stroke="#2b2a8c" stroke-width="0.85"/>
<path d="M116.7 180.3 L120.8 188.1 L112.6 188.1Z" fill="#fff" stroke="#2b2a8c" stroke-width="0.85"/>
<path d="M116.1 180.2 L120.2 188.0 L112.0 188.0Z" fill="#fff" stroke="#2b2a8c" stroke-width="0.85"/>
<path d="M115.5 180.2 L119.6 188.0 L111.4 188.0Z" fill="#fff" stroke="#2b2a8c" stroke-width="0.85"/>
<path d="M114.9 180.2 L119.0 188.0 L110.8 188.0Z" fill="#fff" stroke="#2b2a8c" stroke-width="0.85"/>
<path d="M114.3 180.2 L118.4 188.0 L110.2 188.0Z" fill="#fff" stroke="#2b2a8c" stroke-width="0.85"/>
<path d="M113.8 180.2 L117.9 188.0 L109.7 188.0Z" fill="#fff" stroke="#2b2a8c" stroke-width="0.85"/>
<path d="M113.2 180.1 L117.3 187.9 L109.1 187.9Z" fill="#fff" stroke="#2b2a8c" stroke-width="0.85"/>
<path d="M112.7 180.1 L116.8 187.9 L108.6 187.9Z" fill="#fff" stroke="#2b2a8c" stroke-width="0.85"/>
<path d="M112.1 180.1 L116.2 187.9 L108.0 187.9Z" fill="#fff" stroke="#2b2a8c" stroke-width="0.85"/>
<path d="M111.6 180.1 L115.7 187.9 L107.5 187.9Z" fill="#fff" stroke="#2b2a8c" stroke-width="0.85"/>
<path d="M111.1 180.1 L115.2 187.9 L107.0 187.9Z" fill="#fff" stroke="#2b2a8c" stroke-width="0.85"/>
<path d="M110.5 180.0 L114.6 187.8 L106.4 187.8Z" fill="#fff" stroke="#2b2a8c" stroke-width="0.85"/>
<path d="M110.0 180.0 L114.1 187.8 L105.9 187.8Z" fill="#fff" stroke="#2b2a8c" stroke-width="0.85"/>
<path d="M109.5 180.0 L113.6 187.8 L105.4 187.8Z" fill="#fff" stroke="#2b2a8c" stroke-width="0.85"/>
<path d="M109.0 180.0 L113.1 187.8 L104.9 187.8Z" fill="#fff" stroke="#2b2a8c" stroke-width="0.85"/>
<path d="M108.5 180.0 L112.6 187.8 L104.4 187.8Z" fill="#fff" stroke="#2b2a8c" stroke-width="0.85"/>
<path d="M108.0 179.9 L112.1 187.7 L103.9 187.7Z" fill="#fff" stroke="#2b2a8c" stroke-width="0.85"/>
<path d="M107.5 179.9 L111.6 187.7 L103.4 187.7Z" fill="#fff" stroke="#2b2a8c" stroke-width="0.85"/>
<path d="M107.0 179.9 L111.1 187.7 L102.9 187.7Z" fill="#fff" stroke="#2b2a8c" stroke-width="0.85"/>
<path d="M106.5 179.9 L110.6 187.7 L102.4 187.7Z" fill="#fff" stroke="#2b2a8c" stroke-width="0.85"/>
<path d="M106.0 179.9 L110.1 187.7 L101.9 187.7Z" fill="#fff" stroke="#2b2a8c" stroke-width="0.85"/>
<path d="M105.5 179.8 L109.6 187.6 L101.4 187.6Z" fill="#fff" stroke="#2b2a8c" stroke-width="0.85"/>
<path d="M105.0 179.8 L109.1 187.6 L100.9 187.6Z" fill="#fff" stroke="#2b2a8c" stroke-width="0.85"/>
<path d="M104.5 179.8 L108.6 187.6 L100.4 187.6Z" fill="#fff" stroke="#2b2a8c" stroke-width="0.85"/>
<path d="M104.0 179.8 L108.1 187.6 L99.9 187.6Z" fill="#fff" stroke="#2b2a8c" stroke-width="0.85"/>
<path d="M103.5 179.8 L107.6 187.6 L99.4 187.6Z" fill="#fff" stroke="#2b2a8c" stroke-width="0.85"/>
<path d="M103.0 179.8 L107.1 187.6 L98.9 187.6Z" fill="#fff" stroke="#2b2a8c" stroke-width="0.85"/>
<path d="M102.5 179.7 L106.6 187.5 L98.4 187.5Z" fill="#fff" stroke="#2b2a8c" stroke-width="0.85"/>
<path d="M102.0 179.7 L106.1 187.5 L97.9 187.5Z" fill="#fff" stroke="#2b2a8c" stroke-width="0.85"/>
<path d="M97.7 178.6L99.3 170.5M100.6 164.3L102.2 156.2M103.4 150.0L105.1 141.9M106.3 135.6L107.9 127.6M109.2 121.3L110.8 113.3M112.1 107.0L113.7 99.0M114.9 92.7L116.6 84.7M121.4 77.1L128.4 72.8M133.8 69.4L140.8 65.0M146.2 61.6L150.6 58.9M158.8 55.5L166.8 53.6M173.0 52.1L181.0 50.3M187.2 48.8L192.6 47.5M201.5 46.1L209.6 45.3M216.0 44.7L224.2 43.9M230.5 43.3L236.5 42.7M245.5 42.1L253.7 41.7M260.1 41.3L268.3 40.9M274.7 40.6L281.5 40.2M290.5 40.0L298.7 39.9M305.1 39.8L313.3 39.8M319.7 39.7L326.5 39.6M335.5 39.6L343.7 39.5M350.1 39.5L358.3 39.5M364.7 39.5L372.5 39.4M381.5 39.4L389.7 39.4M396.1 39.4L404.3 39.4M410.7 39.4L418.8 39.4M427.8 39.4L436.0 39.4M442.4 39.4L450.6 39.4M457.0 39.4L464.5 39.4M473.5 39.4L481.7 39.4M488.1 39.4L496.3 39.4M502.7 39.4L510.7 39.4M515.3 44.0L515.5 52.2M515.7 58.6L515.9 66.8M516.1 73.2L516.3 81.4M516.4 87.8L516.7 96.0M516.8 102.4L517.0 110.6M517.2 117.0L517.4 125.2M517.6 131.6L517.8 139.8M518.0 146.2L518.2 154.4M518.3 160.8L518.5 169.0M518.7 175.4L518.9 183.6M519.1 190.0L519.3 198.1M519.5 204.5L519.7 212.7M519.8 219.1L520.0 227.3M520.2 233.7L520.4 241.9M520.6 248.3L520.8 256.5M521.0 262.9L521.2 271.1M486.2 315.8L491.9 310.0M496.4 305.4L502.2 299.5M506.6 295.0L512.4 289.1M516.9 284.6L518.2 283.2M443.5 323.9L451.6 322.9M458.0 322.1L466.1 321.1M472.4 320.3L478.5 319.5M398.9 324.0L407.1 324.1M413.5 324.2L421.7 324.2M428.1 324.3L434.5 324.4M355.5 321.8L363.7 322.2M370.1 322.6L378.3 323.1M384.6 323.4L389.9 323.7M312.4 312.1L320.3 314.0M326.6 315.5L334.5 317.5M340.7 319.0L346.6 320.4M277.7 271.6L282.7 278.1M286.6 283.2L291.6 289.7M295.5 294.7L300.5 301.2M304.4 306.3L305.3 307.4M255.6 248.8L261.4 254.5M266.0 259.0L271.8 264.8M238.5 234.2L244.8 239.4M224.8 224.8L231.2 229.0M212.9 217.7L217.1 220.2M203.6 212.7L205.0 213.4M195.2 208.7L195.4 208.9" fill="none" stroke="#2b2a8c" stroke-width="1.9"/>
<path d="M117.6 74.1 L122.0 82.3 L113.1 82.3Z" fill="#2b2a8c" stroke="#2b2a8c" stroke-width="0.5"/>
<path d="M154.4 51.1 L158.8 59.3 L150.0 59.3Z" fill="#2b2a8c" stroke="#2b2a8c" stroke-width="0.5"/>
<path d="M197.0 41.1 L201.4 49.3 L192.6 49.3Z" fill="#2b2a8c" stroke="#2b2a8c" stroke-width="0.5"/>
<path d="M241.0 36.9 L245.4 45.1 L236.6 45.1Z" fill="#2b2a8c" stroke="#2b2a8c" stroke-width="0.5"/>
<path d="M286.0 34.6 L290.4 42.8 L281.6 42.8Z" fill="#2b2a8c" stroke="#2b2a8c" stroke-width="0.5"/>
<path d="M331.0 34.2 L335.4 42.4 L326.6 42.4Z" fill="#2b2a8c" stroke="#2b2a8c" stroke-width="0.5"/>
<path d="M377.0 34.0 L381.4 42.2 L372.6 42.2Z" fill="#2b2a8c" stroke="#2b2a8c" stroke-width="0.5"/>
<path d="M423.3 34.0 L427.8 42.2 L418.9 42.2Z" fill="#2b2a8c" stroke="#2b2a8c" stroke-width="0.5"/>
<path d="M469.0 34.0 L473.4 42.2 L464.6 42.2Z" fill="#2b2a8c" stroke="#2b2a8c" stroke-width="0.5"/>
<path d="M515.2 34.0 L519.7 42.2 L510.8 42.2Z" fill="#2b2a8c" stroke="#2b2a8c" stroke-width="0.5"/>
<path d="M521.4 274.6 L525.9 282.8 L516.9 282.8Z" fill="#2b2a8c" stroke="#2b2a8c" stroke-width="0.5"/>
<path d="M483.0 313.6 L487.4 321.8 L478.6 321.8Z" fill="#2b2a8c" stroke="#2b2a8c" stroke-width="0.5"/>
<path d="M439.0 319.0 L443.4 327.2 L434.6 327.2Z" fill="#2b2a8c" stroke="#2b2a8c" stroke-width="0.5"/>
<path d="M394.4 318.6 L398.8 326.8 L389.9 326.8Z" fill="#2b2a8c" stroke="#2b2a8c" stroke-width="0.5"/>
<path d="M351.0 316.1 L355.4 324.3 L346.6 324.3Z" fill="#2b2a8c" stroke="#2b2a8c" stroke-width="0.5"/>
<path d="M308.0 305.6 L312.4 313.8 L303.6 313.8Z" fill="#2b2a8c" stroke="#2b2a8c" stroke-width="0.5"/>
<path d="M275.0 262.6 L279.4 270.8 L270.6 270.8Z" fill="#2b2a8c" stroke="#2b2a8c" stroke-width="0.5"/>
<path d="M252.4 240.2 L256.9 248.4 L248.0 248.4Z" fill="#2b2a8c" stroke="#2b2a8c" stroke-width="0.5"/>
<path d="M235.0 226.0 L239.4 234.2 L230.6 234.2Z" fill="#2b2a8c" stroke="#2b2a8c" stroke-width="0.5"/>
<path d="M221.0 217.0 L225.4 225.2 L216.6 225.2Z" fill="#2b2a8c" stroke="#2b2a8c" stroke-width="0.5"/>
<path d="M209.0 210.1 L213.4 218.3 L204.6 218.3Z" fill="#2b2a8c" stroke="#2b2a8c" stroke-width="0.5"/>
<path d="M199.6 205.2 L204.0 213.4 L195.2 213.4Z" fill="#2b2a8c" stroke="#2b2a8c" stroke-width="0.5"/>
<path d="M191.0 201.6 L195.4 209.8 L186.6 209.8Z" fill="#2b2a8c" stroke="#2b2a8c" stroke-width="0.5"/>
<path d="M184.0 198.6 L188.4 206.8 L179.6 206.8Z" fill="#2b2a8c" stroke="#2b2a8c" stroke-width="0.5"/>
<path d="M178.0 196.6 L182.4 204.8 L173.6 204.8Z" fill="#2b2a8c" stroke="#2b2a8c" stroke-width="0.5"/>
<path d="M172.4 195.0 L176.9 203.2 L168.0 203.2Z" fill="#2b2a8c" stroke="#2b2a8c" stroke-width="0.5"/>
<path d="M167.3 193.6 L171.7 201.8 L162.8 201.8Z" fill="#2b2a8c" stroke="#2b2a8c" stroke-width="0.5"/>
<path d="M162.6 192.3 L167.1 200.5 L158.2 200.5Z" fill="#2b2a8c" stroke="#2b2a8c" stroke-width="0.5"/>
<path d="M158.3 191.1 L162.8 199.3 L153.9 199.3Z" fill="#2b2a8c" stroke="#2b2a8c" stroke-width="0.5"/>
<path d="M154.4 190.0 L158.8 198.2 L149.9 198.2Z" fill="#2b2a8c" stroke="#2b2a8c" stroke-width="0.5"/>
<path d="M150.8 189.0 L155.2 197.2 L146.3 197.2Z" fill="#2b2a8c" stroke="#2b2a8c" stroke-width="0.5"/>
<path d="M147.5 188.0 L151.9 196.2 L143.0 196.2Z" fill="#2b2a8c" stroke="#2b2a8c" stroke-width="0.5"/>
<path d="M144.5 187.1 L148.9 195.3 L140.0 195.3Z" fill="#2b2a8c" stroke="#2b2a8c" stroke-width="0.5"/>
<path d="M141.8 186.3 L146.2 194.5 L137.3 194.5Z" fill="#2b2a8c" stroke="#2b2a8c" stroke-width="0.5"/>
<path d="M139.3 185.5 L143.8 193.7 L134.9 193.7Z" fill="#2b2a8c" stroke="#2b2a8c" stroke-width="0.5"/>
<path d="M137.1 184.8 L141.5 193.0 L132.6 193.0Z" fill="#2b2a8c" stroke="#2b2a8c" stroke-width="0.5"/>
<path d="M135.1 184.2 L139.5 192.4 L130.6 192.4Z" fill="#2b2a8c" stroke="#2b2a8c" stroke-width="0.5"/>
<path d="M133.2 183.7 L137.7 191.9 L128.8 191.9Z" fill="#2b2a8c" stroke="#2b2a8c" stroke-width="0.5"/>
<path d="M131.5 183.3 L136.0 191.5 L127.1 191.5Z" fill="#2b2a8c" stroke="#2b2a8c" stroke-width="0.5"/>
<path d="M130.0 182.9 L134.4 191.1 L125.5 191.1Z" fill="#2b2a8c" stroke="#2b2a8c" stroke-width="0.5"/>
<path d="M128.5 182.5 L133.0 190.7 L124.1 190.7Z" fill="#2b2a8c" stroke="#2b2a8c" stroke-width="0.5"/>
<path d="M127.1 182.2 L131.6 190.4 L122.7 190.4Z" fill="#2b2a8c" stroke="#2b2a8c" stroke-width="0.5"/>
<path d="M125.9 181.9 L130.3 190.1 L121.4 190.1Z" fill="#2b2a8c" stroke="#2b2a8c" stroke-width="0.5"/>
<path d="M124.7 181.6 L129.2 189.8 L120.3 189.8Z" fill="#2b2a8c" stroke="#2b2a8c" stroke-width="0.5"/>
<path d="M123.7 181.4 L128.1 189.6 L119.2 189.6Z" fill="#2b2a8c" stroke="#2b2a8c" stroke-width="0.5"/>
<path d="M122.7 181.1 L127.1 189.3 L118.2 189.3Z" fill="#2b2a8c" stroke="#2b2a8c" stroke-width="0.5"/>
<path d="M121.7 180.9 L126.2 189.1 L117.3 189.1Z" fill="#2b2a8c" stroke="#2b2a8c" stroke-width="0.5"/>
<path d="M120.9 180.7 L125.3 188.9 L116.4 188.9Z" fill="#2b2a8c" stroke="#2b2a8c" stroke-width="0.5"/>
<path d="M120.1 180.5 L124.5 188.7 L115.6 188.7Z" fill="#2b2a8c" stroke="#2b2a8c" stroke-width="0.5"/>
<path d="M119.3 180.5 L123.8 188.7 L114.9 188.7Z" fill="#2b2a8c" stroke="#2b2a8c" stroke-width="0.5"/>
<path d="M118.6 180.4 L123.0 188.6 L114.1 188.6Z" fill="#2b2a8c" stroke="#2b2a8c" stroke-width="0.5"/>
<path d="M117.9 180.3 L122.3 188.5 L113.4 188.5Z" fill="#2b2a8c" stroke="#2b2a8c" stroke-width="0.5"/>
<path d="M117.2 180.3 L121.6 188.5 L112.7 188.5Z" fill="#2b2a8c" stroke="#2b2a8c" stroke-width="0.5"/>
<path d="M116.5 180.2 L120.9 188.4 L112.0 188.4Z" fill="#2b2a8c" stroke="#2b2a8c" stroke-width="0.5"/>
<path d="M115.8 180.2 L120.3 188.4 L111.4 188.4Z" fill="#2b2a8c" stroke="#2b2a8c" stroke-width="0.5"/>
<path d="M115.1 180.1 L119.6 188.3 L110.7 188.3Z" fill="#2b2a8c" stroke="#2b2a8c" stroke-width="0.5"/>
<path d="M114.5 180.1 L119.0 188.3 L110.1 188.3Z" fill="#2b2a8c" stroke="#2b2a8c" stroke-width="0.5"/>
<path d="M113.9 180.1 L118.3 188.3 L109.4 188.3Z" fill="#2b2a8c" stroke="#2b2a8c" stroke-width="0.5"/>
<path d="M113.3 180.0 L117.7 188.2 L108.8 188.2Z" fill="#2b2a8c" stroke="#2b2a8c" stroke-width="0.5"/>
<path d="M112.7 180.0 L117.1 188.2 L108.2 188.2Z" fill="#2b2a8c" stroke="#2b2a8c" stroke-width="0.5"/>
<path d="M112.1 179.9 L116.5 188.1 L107.6 188.1Z" fill="#2b2a8c" stroke="#2b2a8c" stroke-width="0.5"/>
<path d="M111.5 179.9 L116.0 188.1 L107.1 188.1Z" fill="#2b2a8c" stroke="#2b2a8c" stroke-width="0.5"/>
<path d="M110.9 179.8 L115.4 188.0 L106.5 188.0Z" fill="#2b2a8c" stroke="#2b2a8c" stroke-width="0.5"/>
<path d="M110.4 179.8 L114.9 188.0 L106.0 188.0Z" fill="#2b2a8c" stroke="#2b2a8c" stroke-width="0.5"/>
<path d="M109.9 179.8 L114.3 188.0 L105.4 188.0Z" fill="#2b2a8c" stroke="#2b2a8c" stroke-width="0.5"/>
<path d="M109.3 179.7 L113.8 187.9 L104.9 187.9Z" fill="#2b2a8c" stroke="#2b2a8c" stroke-width="0.5"/>
<path d="M108.8 179.7 L113.3 187.9 L104.4 187.9Z" fill="#2b2a8c" stroke="#2b2a8c" stroke-width="0.5"/>
<path d="M108.3 179.7 L112.8 187.9 L103.9 187.9Z" fill="#2b2a8c" stroke="#2b2a8c" stroke-width="0.5"/>
<path d="M107.8 179.6 L112.3 187.8 L103.4 187.8Z" fill="#2b2a8c" stroke="#2b2a8c" stroke-width="0.5"/>
<path d="M107.3 179.6 L111.8 187.8 L102.9 187.8Z" fill="#2b2a8c" stroke="#2b2a8c" stroke-width="0.5"/>
<path d="M106.8 179.5 L111.3 187.7 L102.4 187.7Z" fill="#2b2a8c" stroke="#2b2a8c" stroke-width="0.5"/>
<path d="M106.3 179.5 L110.8 187.7 L101.9 187.7Z" fill="#2b2a8c" stroke="#2b2a8c" stroke-width="0.5"/>
<path d="M105.8 179.5 L110.3 187.7 L101.4 187.7Z" fill="#2b2a8c" stroke="#2b2a8c" stroke-width="0.5"/>
<path d="M105.3 179.5 L109.8 187.7 L100.9 187.7Z" fill="#2b2a8c" stroke="#2b2a8c" stroke-width="0.5"/>
<path d="M104.8 179.4 L109.3 187.6 L100.4 187.6Z" fill="#2b2a8c" stroke="#2b2a8c" stroke-width="0.5"/>
<path d="M104.3 179.4 L108.8 187.6 L99.9 187.6Z" fill="#2b2a8c" stroke="#2b2a8c" stroke-width="0.5"/>
<path d="M103.8 179.4 L108.3 187.6 L99.4 187.6Z" fill="#2b2a8c" stroke="#2b2a8c" stroke-width="0.5"/>
<path d="M103.3 179.4 L107.8 187.6 L98.9 187.6Z" fill="#2b2a8c" stroke="#2b2a8c" stroke-width="0.5"/>
<path d="M102.8 179.4 L107.3 187.6 L98.4 187.6Z" fill="#2b2a8c" stroke="#2b2a8c" stroke-width="0.5"/>
<path d="M102.3 179.3 L106.8 187.5 L97.9 187.5Z" fill="#2b2a8c" stroke="#2b2a8c" stroke-width="0.5"/>
<path d="M101.8 179.3 L106.3 187.5 L97.4 187.5Z" fill="#2b2a8c" stroke="#2b2a8c" stroke-width="0.5"/>
</g>
<g font-family="'Liberation Sans', Arial, sans-serif" font-size="18.4" fill="#3c3c3c" stroke="#3c3c3c" stroke-width="0.3" style="font-kerning:none">
<text transform="translate(86.2 32.7) scale(1 1)" text-anchor="end">6x10<tspan font-size="10.6" dy="-10.0">6</tspan></text>
<text transform="translate(86.2 111.7) scale(1 1)" text-anchor="end">3x10<tspan font-size="10.6" dy="-10.0">6</tspan></text>
<text transform="translate(86.2 190.6) scale(1 1)" text-anchor="end">0</text>
<text transform="translate(86.2 270.3) scale(1 1)" text-anchor="end">-3x10<tspan font-size="10.6" dy="-10.0">6</tspan></text>
<text transform="translate(86.2 349.1) scale(1 1)" text-anchor="end">-6x10<tspan font-size="10.6" dy="-10.0">6</tspan></text>
<text transform="translate(96.0 367.0) scale(1 1)" text-anchor="middle">0</text>
<text transform="translate(307.6 367.0) scale(1 1)" text-anchor="middle">500</text>
<text transform="translate(520.3 367.0) scale(1 1)" text-anchor="middle">1000</text>
<text transform="translate(236.0 397.6) scale(1 1)" text-anchor="start">Temperature in <tspan font-size="15" dy="1.3" dx="0.6" stroke="#3c3c3c" stroke-width="0.4">°</tspan><tspan dy="-1.3" dx="0.3">C</tspan></text>
<text transform="translate(25.3 186.8) rotate(-90) scale(1 1)" text-anchor="middle">Scanning Rate in K/s</text>
</g>
</svg>
</body></html>
